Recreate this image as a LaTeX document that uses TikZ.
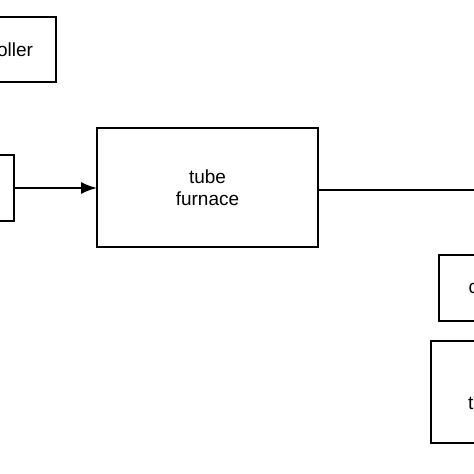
\documentclass[tikz,border=0pt]{standalone}
\usepackage{fontspec}
\setmainfont{Liberation Sans}
\usetikzlibrary{arrows.meta,positioning}
\tikzset{
  box/.style={draw, line width=1.8pt, inner sep=0pt, outer sep=0pt, align=center,
    font=\fontsize{19}{22}\selectfont},
  label/.style={inner sep=0pt, font=\fontsize{19}{22}\selectfont},
  line/.style={-{Latex[length=16pt,width=12pt]}, line width=1.8pt},
  plain/.style={line width=1.8pt}
}

\begin{document}
\begin{tikzpicture}[x=1pt, y=-1pt]
  \useasboundingbox (0,0) rectangle (474,474);

  \node[box, minimum width=124pt, minimum height=65pt] (ctrl) at (-6,49.5) {controller};
  \node[box, minimum width=88pt, minimum height=66pt] (src) at (-30,188) {};
  \node[box, minimum width=221pt, minimum height=119pt] (furnace) at (207.5,187.5) {tube\\furnace};
  \node[box, minimum width=100pt, minimum height=66pt, anchor=north west] (mid) at (439,255) {};
  \node[box, minimum width=100pt, minimum height=102pt, anchor=north west] (low) at (431,341) {};
  \node[label, anchor=base west] (midtext) at (468.5,293) {c};
  \node[label, anchor=base west] (lowtext) at (468,409) {t};
  \coordinate (out) at (490,190);

  \draw[line] (src.east) -- (src.east -| furnace.west);
  \draw[plain] (furnace.east |- out) -- (out);
\end{tikzpicture}
\end{document}
